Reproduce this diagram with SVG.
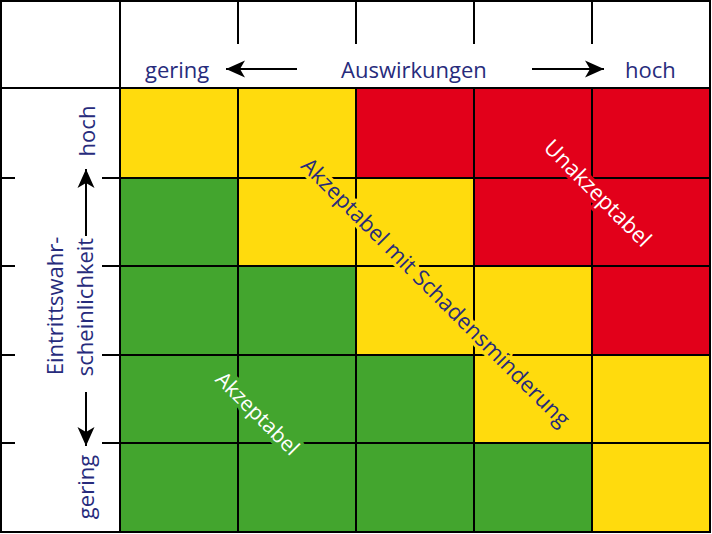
<svg xmlns="http://www.w3.org/2000/svg" width="712" height="534" viewBox="0 0 712 534">
  <style>
    .y { fill: #FFDB0D; }
    .r { fill: #E2001A; }
    .g { fill: #43A52E; }
    .ln { stroke: #000; stroke-width: 2; fill: none; }
    .lbl { font-family: "Open Sans", "Noto Sans", sans-serif; font-size: 22px; fill: #272B7C; }
    .diag { font-family: "Open Sans", "Noto Sans", sans-serif; font-size: 22px; text-anchor: middle; paint-order: stroke; stroke-width: 7; stroke-linejoin: round; }
    .arr { stroke: #000; stroke-width: 2; fill: none; }
  </style>
  <defs>
    <marker id="ah" markerUnits="userSpaceOnUse" markerWidth="24" markerHeight="20" viewBox="-20 -10 22 20" refX="0" refY="0" orient="auto">
      <path d="M0,0 L-19,-8.5 L-14,0 L-19,8.5 Z" fill="#000"/>
    </marker>
  </defs>
  <rect x="0" y="0" width="712" height="534" fill="#fff"/>

  <g id="cells">
    <rect class="y" x="120" y="88" width="118" height="90"/>
    <rect class="y" x="238" y="88" width="118" height="90"/>
    <rect class="r" x="356" y="88" width="118" height="90"/>
    <rect class="r" x="474" y="88" width="118" height="90"/>
    <rect class="r" x="592" y="88" width="118" height="90"/>

    <rect class="g" x="120" y="178" width="118" height="88"/>
    <rect class="y" x="238" y="178" width="118" height="88"/>
    <rect class="y" x="356" y="178" width="118" height="88"/>
    <rect class="r" x="474" y="178" width="118" height="88"/>
    <rect class="r" x="592" y="178" width="118" height="88"/>

    <rect class="g" x="120" y="266" width="118" height="89"/>
    <rect class="g" x="238" y="266" width="118" height="89"/>
    <rect class="y" x="356" y="266" width="118" height="89"/>
    <rect class="y" x="474" y="266" width="118" height="89"/>
    <rect class="r" x="592" y="266" width="118" height="89"/>

    <rect class="g" x="120" y="355" width="118" height="88"/>
    <rect class="g" x="238" y="355" width="118" height="88"/>
    <rect class="g" x="356" y="355" width="118" height="88"/>
    <rect class="y" x="474" y="355" width="118" height="88"/>
    <rect class="y" x="592" y="355" width="118" height="88"/>

    <rect class="g" x="120" y="443" width="118" height="89"/>
    <rect class="g" x="238" y="443" width="118" height="89"/>
    <rect class="g" x="356" y="443" width="118" height="89"/>
    <rect class="g" x="474" y="443" width="118" height="89"/>
    <rect class="y" x="592" y="443" width="118" height="89"/>
  </g>

  <g id="grid" class="ln">
    <rect x="1" y="1" width="709" height="531"/>
    <path d="M120,1 V532"/>
    <path d="M1,88 H710"/>
    <path d="M238,1 V44 M356,1 V44 M474,1 V44 M592,1 V44"/>
    <path d="M238,88 V532 M356,88 V532 M474,88 V532 M592,88 V532"/>
    <path d="M120,178 H710 M120,266 H710 M120,355 H710 M120,443 H710"/>
    <path d="M1,178 H15 M102,178 H120 M1,266 H15 M102,266 H120 M1,355 H15 M102,355 H120 M1,443 H15 M102,443 H120"/>
  </g>

  <g id="connectors">
    <path class="arr" d="M297,69 H226" marker-end="url(#ah)"/>
    <path class="arr" d="M532,69 H604" marker-end="url(#ah)"/>
    <path class="arr" d="M86,236 V169" marker-end="url(#ah)"/>
    <path class="arr" d="M86,392 V446" marker-end="url(#ah)"/>
  </g>

  <g id="header-labels">
    <text class="lbl" x="145" y="78">gering</text>
    <text class="lbl" x="341" y="78">Auswirkungen</text>
    <text class="lbl" x="625" y="78">hoch</text>
  </g>

  <g id="side-labels">
    <text class="lbl" text-anchor="middle" transform="translate(87,131) rotate(-90)" y="8">hoch</text>
    <text class="lbl" text-anchor="middle" transform="translate(55,306) rotate(-90)" y="8">Eintrittswahr-</text>
    <text class="lbl" text-anchor="middle" transform="translate(85,307) rotate(-90)" y="8">scheinlichkeit</text>
    <text class="lbl" text-anchor="middle" transform="translate(86,487) rotate(-90)" y="8">gering</text>
  </g>

  <g id="zone-labels">
    <text class="diag" fill="#272B7C" stroke="#FFDB0D" transform="translate(436,292) rotate(45)" y="8">Akzeptabel mit Schadensminderung</text>
    <text class="diag" fill="#fff" stroke="#E2001A" transform="translate(598,193) rotate(45)" y="8">Unakzeptabel</text>
    <text class="diag" fill="#fff" stroke="#43A52E" style="font-size:21px" transform="translate(258,413) rotate(45)" y="8">Akzeptabel</text>
  </g>
</svg>
